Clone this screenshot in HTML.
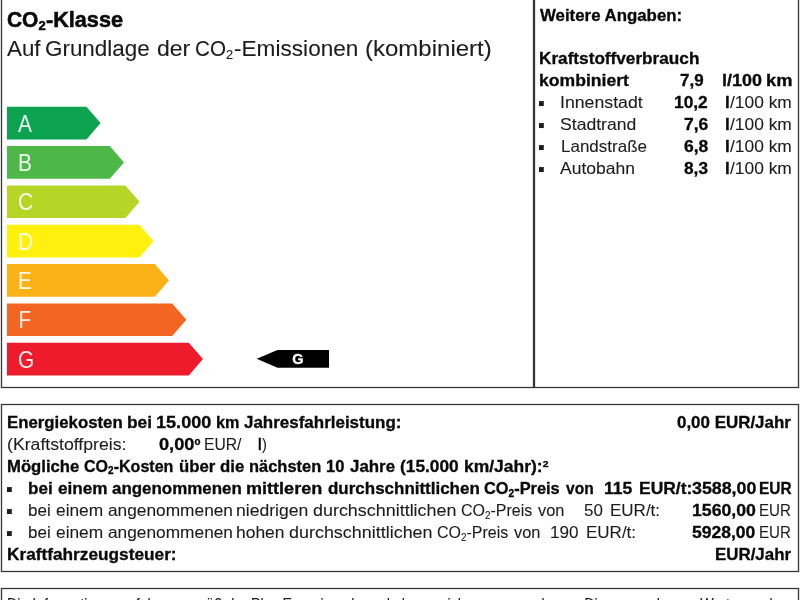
<!DOCTYPE html>
<html lang="de">
<head>
<meta charset="utf-8">
<title>CO₂-Klasse</title>
<style>
html,body{margin:0;padding:0;background:#fff}
body{width:800px;height:600px;overflow:hidden;position:relative;font-family:"Liberation Sans",sans-serif;color:#1d1d1d}
.page{position:absolute;left:0;top:0;width:800px;height:600px;overflow:hidden;will-change:transform}
svg.art{position:absolute;left:0;top:0}
.row{position:absolute;left:0;top:0;width:0;height:0;margin:0}
.t{position:absolute;white-space:pre;line-height:22px;height:22px;transform-origin:0 50%;font-weight:400;-webkit-text-stroke:.1px;font-family:"Liberation Sans",sans-serif}
.t.b{font-weight:700;-webkit-text-stroke:.32px}
.t.h{-webkit-text-stroke:.55px}
.s{font-size:.62em;position:relative;top:.27em;line-height:0;vertical-align:baseline}
.u{font-size:.6em;position:relative;top:-.5em;line-height:0;vertical-align:baseline}
.t.b{color:#0a0a0a}
.al{position:absolute;left:17px;width:16px;text-align:center;color:rgba(255,255,255,.9);font-size:24px;line-height:30px;height:30px;transform:scaleX(.87);transform-origin:50% 50%}
.mk{position:absolute;left:291.3px;top:350.4px;width:13px;text-align:center;color:#fff;font-weight:700;font-size:14.5px;line-height:18px;-webkit-text-stroke:.3px}
</style>
</head>
<body>
<div class="page">
<svg class="art" width="800" height="600" viewBox="0 0 800 600">
<polygon fill="#0ba34f" points="7,106.7 86.4,106.7 100.6,123.05 86.4,139.4 7,139.4"/>
<polygon fill="#4db748" points="7,146.1 109.8,146.1 124.0,162.45 109.8,178.8 7,178.8"/>
<polygon fill="#b7d526" points="7,185.4 125.4,185.4 139.6,201.75 125.4,218.1 7,218.1"/>
<polygon fill="#fff10d" points="7,224.8 139.4,224.8 153.6,241.15 139.4,257.5 7,257.5"/>
<polygon fill="#fbb216" points="7,264.1 154.8,264.1 169.0,280.45 154.8,296.8 7,296.8"/>
<polygon fill="#f26522" points="7,303.4 172.2,303.4 186.4,319.75 172.2,336.1 7,336.1"/>
<polygon fill="#ed1b2b" points="7,342.7 188.8,342.7 203.0,359.05 188.8,375.4 7,375.4"/>
<polygon fill="#000" points="256.7,358.8 277.5,349.9 329,349.9 329,367.7 277.5,367.7"/>
<g fill="#353535"><rect x="0.85" y="-2" width="1.30" height="390.00"/><rect x="797.85" y="-2" width="1.30" height="390.00"/><rect x="532.85" y="-2" width="2.30" height="390.00"/><rect x="0.85" y="386.85" width="798.30" height="1.30"/><rect x="0.85" y="404" width="1.30" height="168.00"/><rect x="797.85" y="404" width="1.30" height="168.00"/><rect x="0.85" y="403.85" width="798.30" height="1.30"/><rect x="0.85" y="570.85" width="798.30" height="1.30"/><rect x="0.85" y="588" width="1.30" height="14.00"/><rect x="797.85" y="588" width="1.30" height="14.00"/><rect x="0.85" y="587.85" width="798.30" height="1.30"/></g>
</svg>
<section class="klasse">
<div class="row"><span class="t b h" style="left:6.57px;top:8.55px;font-size:21.5px;transform:scaleX(0.9740)">CO<sub class="s">2</sub></span><span class="t b h" style="left:46.45px;top:8.55px;font-size:21.5px;transform:scaleX(1.0060)">-Klasse</span></div>
<div class="row"><span class="t" style="left:6.75px;top:37.65px;font-size:21.5px;transform:scaleX(1.0385)">Auf</span> <span class="t" style="left:45.26px;top:37.65px;font-size:21.5px;transform:scaleX(1.0426)">Grundlage</span> <span class="t" style="left:156.50px;top:37.65px;font-size:21.5px;transform:scaleX(1.0700)">der</span> <span class="t" style="left:195.34px;top:37.65px;font-size:21.5px;transform:scaleX(0.9592)">CO<sub class="s">2</sub></span><span class="t" style="left:234.21px;top:37.65px;font-size:21.5px;transform:scaleX(1.0520)">-Emissionen</span> <span class="t" style="left:364.60px;top:37.65px;font-size:21.5px;transform:scaleX(1.1171)">(kombiniert)</span></div>
<div class="scale"><span class="al" style="top:108.75px">A</span><span class="al" style="top:148.15px">B</span><span class="al" style="top:187.45px">C</span><span class="al" style="top:226.85px">D</span><span class="al" style="top:266.15px">E</span><span class="al" style="top:305.45px">F</span><span class="al" style="top:344.75px">G</span><span class="mk">G</span></div>
</section>
<section class="angaben">
<div class="row"><span class="t b" style="left:539.75px;top:3.78px;font-size:16.5px;transform:scaleX(1.0199)">Weitere Angaben:</span></div>
<div class="row"><span class="t b" style="left:539.16px;top:47.03px;font-size:16.5px;transform:scaleX(1.0414)">Kraftstoffverbrauch</span></div>
<div class="row"><span class="t b" style="left:539.13px;top:69.03px;font-size:16.5px;transform:scaleX(1.0667)">kombiniert</span> <span class="t b" style="left:680.29px;top:69.03px;font-size:16.5px;transform:scaleX(1.0273)">7,9</span> <span class="t b" style="left:722.41px;top:69.03px;font-size:16.5px;transform:scaleX(1.0865)">l/100</span> <span class="t b" style="left:765.89px;top:69.03px;font-size:16.5px;transform:scaleX(1.1091)">km</span></div>
<div class="row"><span class="t bullet" style="left:538.34px;top:92.27px;font-size:20px;transform:scaleX(0.9600)">▪</span> <span class="t" style="left:559.79px;top:91.28px;font-size:16.5px;transform:scaleX(1.0728)">Innenstadt</span> <span class="t b" style="left:674.21px;top:91.28px;font-size:16.5px;transform:scaleX(1.0516)">10,2</span> <span class="t b" style="left:725.36px;top:91.28px;font-size:16.5px;transform:scaleX(1.0400)">l</span><span class="t" style="left:730.30px;top:91.28px;font-size:16.5px;transform:scaleX(1.0528)">/100 km</span></div>
<div class="row"><span class="t bullet" style="left:538.34px;top:114.27px;font-size:20px;transform:scaleX(0.9600)">▪</span> <span class="t" style="left:560.20px;top:113.28px;font-size:16.5px;transform:scaleX(1.0667)">Stadtrand</span> <span class="t b" style="left:683.77px;top:113.28px;font-size:16.5px;transform:scaleX(1.0591)">7,6</span> <span class="t b" style="left:725.36px;top:113.28px;font-size:16.5px;transform:scaleX(1.0400)">l</span><span class="t" style="left:730.30px;top:113.28px;font-size:16.5px;transform:scaleX(1.0528)">/100 km</span></div>
<div class="row"><span class="t bullet" style="left:538.34px;top:136.27px;font-size:20px;transform:scaleX(0.9600)">▪</span> <span class="t" style="left:560.71px;top:135.28px;font-size:16.5px;transform:scaleX(1.0307)">Landstraße</span> <span class="t b" style="left:683.77px;top:135.28px;font-size:16.5px;transform:scaleX(1.0591)">6,8</span> <span class="t b" style="left:725.36px;top:135.28px;font-size:16.5px;transform:scaleX(1.0400)">l</span><span class="t" style="left:730.30px;top:135.28px;font-size:16.5px;transform:scaleX(1.0528)">/100 km</span></div>
<div class="row"><span class="t bullet" style="left:538.34px;top:158.27px;font-size:20px;transform:scaleX(0.9600)">▪</span> <span class="t" style="left:560.40px;top:157.28px;font-size:16.5px;transform:scaleX(1.0609)">Autobahn</span> <span class="t b" style="left:684.04px;top:157.28px;font-size:16.5px;transform:scaleX(1.0472)">8,3</span> <span class="t b" style="left:725.36px;top:157.28px;font-size:16.5px;transform:scaleX(1.0400)">l</span><span class="t" style="left:730.30px;top:157.28px;font-size:16.5px;transform:scaleX(1.0528)">/100 km</span></div>
</section>
<section class="kosten">
<div class="row"><span class="t b" style="left:6.58px;top:410.78px;font-size:16.5px;transform:scaleX(1.0170)">Energiekosten</span> <span class="t b" style="left:126.70px;top:410.78px;font-size:16.5px;transform:scaleX(1.0506)">bei</span> <span class="t b" style="left:156.18px;top:410.78px;font-size:16.5px;transform:scaleX(1.0964)">15.000</span> <span class="t b" style="left:216.02px;top:410.78px;font-size:16.5px;transform:scaleX(0.9818)">km</span> <span class="t b" style="left:244.40px;top:410.78px;font-size:16.5px;transform:scaleX(1.0280)">Jahresfahrleistung:</span> <span class="t b" style="left:677.09px;top:410.78px;font-size:16.5px;transform:scaleX(1.0262)">0,00 EUR/Jahr</span></div>
<div class="row"><span class="t" style="left:6.53px;top:432.78px;font-size:16.5px;transform:scaleX(1.0709)">(Kraftstoffpreis:</span> <span class="t b" style="left:159.45px;top:432.78px;font-size:16.5px;transform:scaleX(1.1027)">0,00<sup class="u">0</sup></span> <span class="t" style="left:203.51px;top:432.78px;font-size:16.5px;transform:scaleX(0.9490)">EUR/</span> <span class="t b" style="left:258.00px;top:432.78px;font-size:16.5px;transform:scaleX(0.8000)">l</span><span class="t" style="left:262.30px;top:432.78px;font-size:16.5px;transform:scaleX(0.8889)">)</span></div>
<div class="row"><span class="t b" style="left:6.74px;top:454.53px;font-size:16.5px;transform:scaleX(1.0107)">Mögliche</span> <span class="t b" style="left:83.91px;top:454.53px;font-size:16.5px;transform:scaleX(0.9735)">CO<sub class="s">2</sub>-Kosten</span> <span class="t b" style="left:179.24px;top:454.53px;font-size:16.5px;transform:scaleX(1.0159)">über die</span> <span class="t b" style="left:248.75px;top:454.53px;font-size:16.5px;transform:scaleX(0.9965)">nächsten</span> <span class="t b" style="left:326.05px;top:454.53px;font-size:16.5px;transform:scaleX(1.0000)">10</span> <span class="t b" style="left:350.00px;top:454.53px;font-size:16.5px;transform:scaleX(1.0229)">Jahre</span> <span class="t b" style="left:399.81px;top:454.53px;font-size:16.5px;transform:scaleX(1.0484)">(15.000</span> <span class="t b" style="left:463.94px;top:454.53px;font-size:16.5px;transform:scaleX(1.0586)">km/Jahr):<sup class="u">2</sup></span></div>
<div class="row"><span class="t bullet" style="left:6.14px;top:478.22px;font-size:20px;transform:scaleX(0.9600)">▪</span> <span class="t b" style="left:28.37px;top:477.03px;font-size:16.5px;transform:scaleX(1.0345)">bei</span> <span class="t b" style="left:57.58px;top:477.03px;font-size:16.5px;transform:scaleX(1.0411)">einem</span> <span class="t b" style="left:111.99px;top:477.03px;font-size:16.5px;transform:scaleX(1.0259)">angenommenen</span> <span class="t b" style="left:245.81px;top:477.03px;font-size:16.5px;transform:scaleX(1.0937)">mittleren</span> <span class="t b" style="left:327.59px;top:477.03px;font-size:16.5px;transform:scaleX(1.0284)">durchschnittlichen</span> <span class="t b" style="left:484.25px;top:477.03px;font-size:16.5px;transform:scaleX(0.9920)">CO<sub class="s">2</sub>-Preis</span> <span class="t b" style="left:566.25px;top:477.03px;font-size:16.5px;transform:scaleX(0.9421)">von</span> <span class="t b" style="left:603.61px;top:477.03px;font-size:16.5px;transform:scaleX(1.0588)">115</span> <span class="t b" style="left:639.34px;top:477.03px;font-size:16.5px;transform:scaleX(1.0583)">EUR/t:</span> <span class="t b" style="left:691.93px;top:477.03px;font-size:16.5px;transform:scaleX(1.0791)">3588,00</span> <span class="t b" style="left:758.57px;top:477.03px;font-size:16.5px;transform:scaleX(0.9333)">EUR</span></div>
<div class="row"><span class="t bullet" style="left:6.14px;top:499.97px;font-size:20px;transform:scaleX(0.9600)">▪</span> <span class="t" style="left:28.37px;top:498.78px;font-size:16.5px;transform:scaleX(1.0300)">bei</span> <span class="t" style="left:55.73px;top:498.78px;font-size:16.5px;transform:scaleX(1.0494)">einem</span> <span class="t" style="left:107.58px;top:498.78px;font-size:16.5px;transform:scaleX(1.0480)">angenommenen</span> <span class="t" style="left:236.44px;top:498.78px;font-size:16.5px;transform:scaleX(1.0644)">niedrigen</span> <span class="t" style="left:312.96px;top:498.78px;font-size:16.5px;transform:scaleX(1.0862)">durchschnittlichen</span> <span class="t" style="left:460.52px;top:498.78px;font-size:16.5px;transform:scaleX(0.9689)">CO<sub class="s">2</sub>-Preis</span> <span class="t" style="left:537.50px;top:498.78px;font-size:16.5px;transform:scaleX(0.9942)">von</span> <span class="t" style="left:584.39px;top:498.78px;font-size:16.5px;transform:scaleX(1.0261)">50</span> <span class="t" style="left:609.71px;top:498.78px;font-size:16.5px;transform:scaleX(1.0304)">EUR/t:</span> <span class="t b" style="left:691.80px;top:498.78px;font-size:16.5px;transform:scaleX(1.0712)">1560,00</span> <span class="t" style="left:759.25px;top:498.78px;font-size:16.5px;transform:scaleX(0.9160)">EUR</span></div>
<div class="row"><span class="t bullet" style="left:6.14px;top:521.97px;font-size:20px;transform:scaleX(0.9600)">▪</span> <span class="t" style="left:28.37px;top:520.78px;font-size:16.5px;transform:scaleX(1.0300)">bei</span> <span class="t" style="left:55.73px;top:520.78px;font-size:16.5px;transform:scaleX(1.0494)">einem</span> <span class="t" style="left:107.58px;top:520.78px;font-size:16.5px;transform:scaleX(1.0480)">angenommenen</span> <span class="t" style="left:236.44px;top:520.78px;font-size:16.5px;transform:scaleX(1.0568)">hohen</span> <span class="t" style="left:288.86px;top:520.78px;font-size:16.5px;transform:scaleX(1.0870)">durchschnittlichen</span> <span class="t" style="left:436.77px;top:520.78px;font-size:16.5px;transform:scaleX(0.9689)">CO<sub class="s">2</sub>-Preis</span> <span class="t" style="left:513.75px;top:520.78px;font-size:16.5px;transform:scaleX(0.9961)">von</span> <span class="t" style="left:549.50px;top:520.78px;font-size:16.5px;transform:scaleX(1.0369)">190</span> <span class="t" style="left:585.71px;top:520.78px;font-size:16.5px;transform:scaleX(1.0304)">EUR/t:</span> <span class="t b" style="left:692.33px;top:520.78px;font-size:16.5px;transform:scaleX(1.0621)">5928,00</span> <span class="t" style="left:759.25px;top:520.78px;font-size:16.5px;transform:scaleX(0.9160)">EUR</span></div>
<div class="row"><span class="t b" style="left:6.55px;top:542.78px;font-size:16.5px;transform:scaleX(1.0450)">Kraftfahrzeugsteuer:</span> <span class="t b" style="left:714.98px;top:542.78px;font-size:16.5px;transform:scaleX(1.0239)">EUR/Jahr</span></div>
</section>
<section class="info">
<div class="row"><span class="t" style="left:6.92px;top:593.18px;font-size:16.5px;transform:scaleX(0.8609)">Die Informationen erfolgen gemäß der Pkw-Energieverbrauchskennzeichnungsverordnung. Die angegebenen Werte wurden</span></div>
</section>
</div>
</body>
</html>
